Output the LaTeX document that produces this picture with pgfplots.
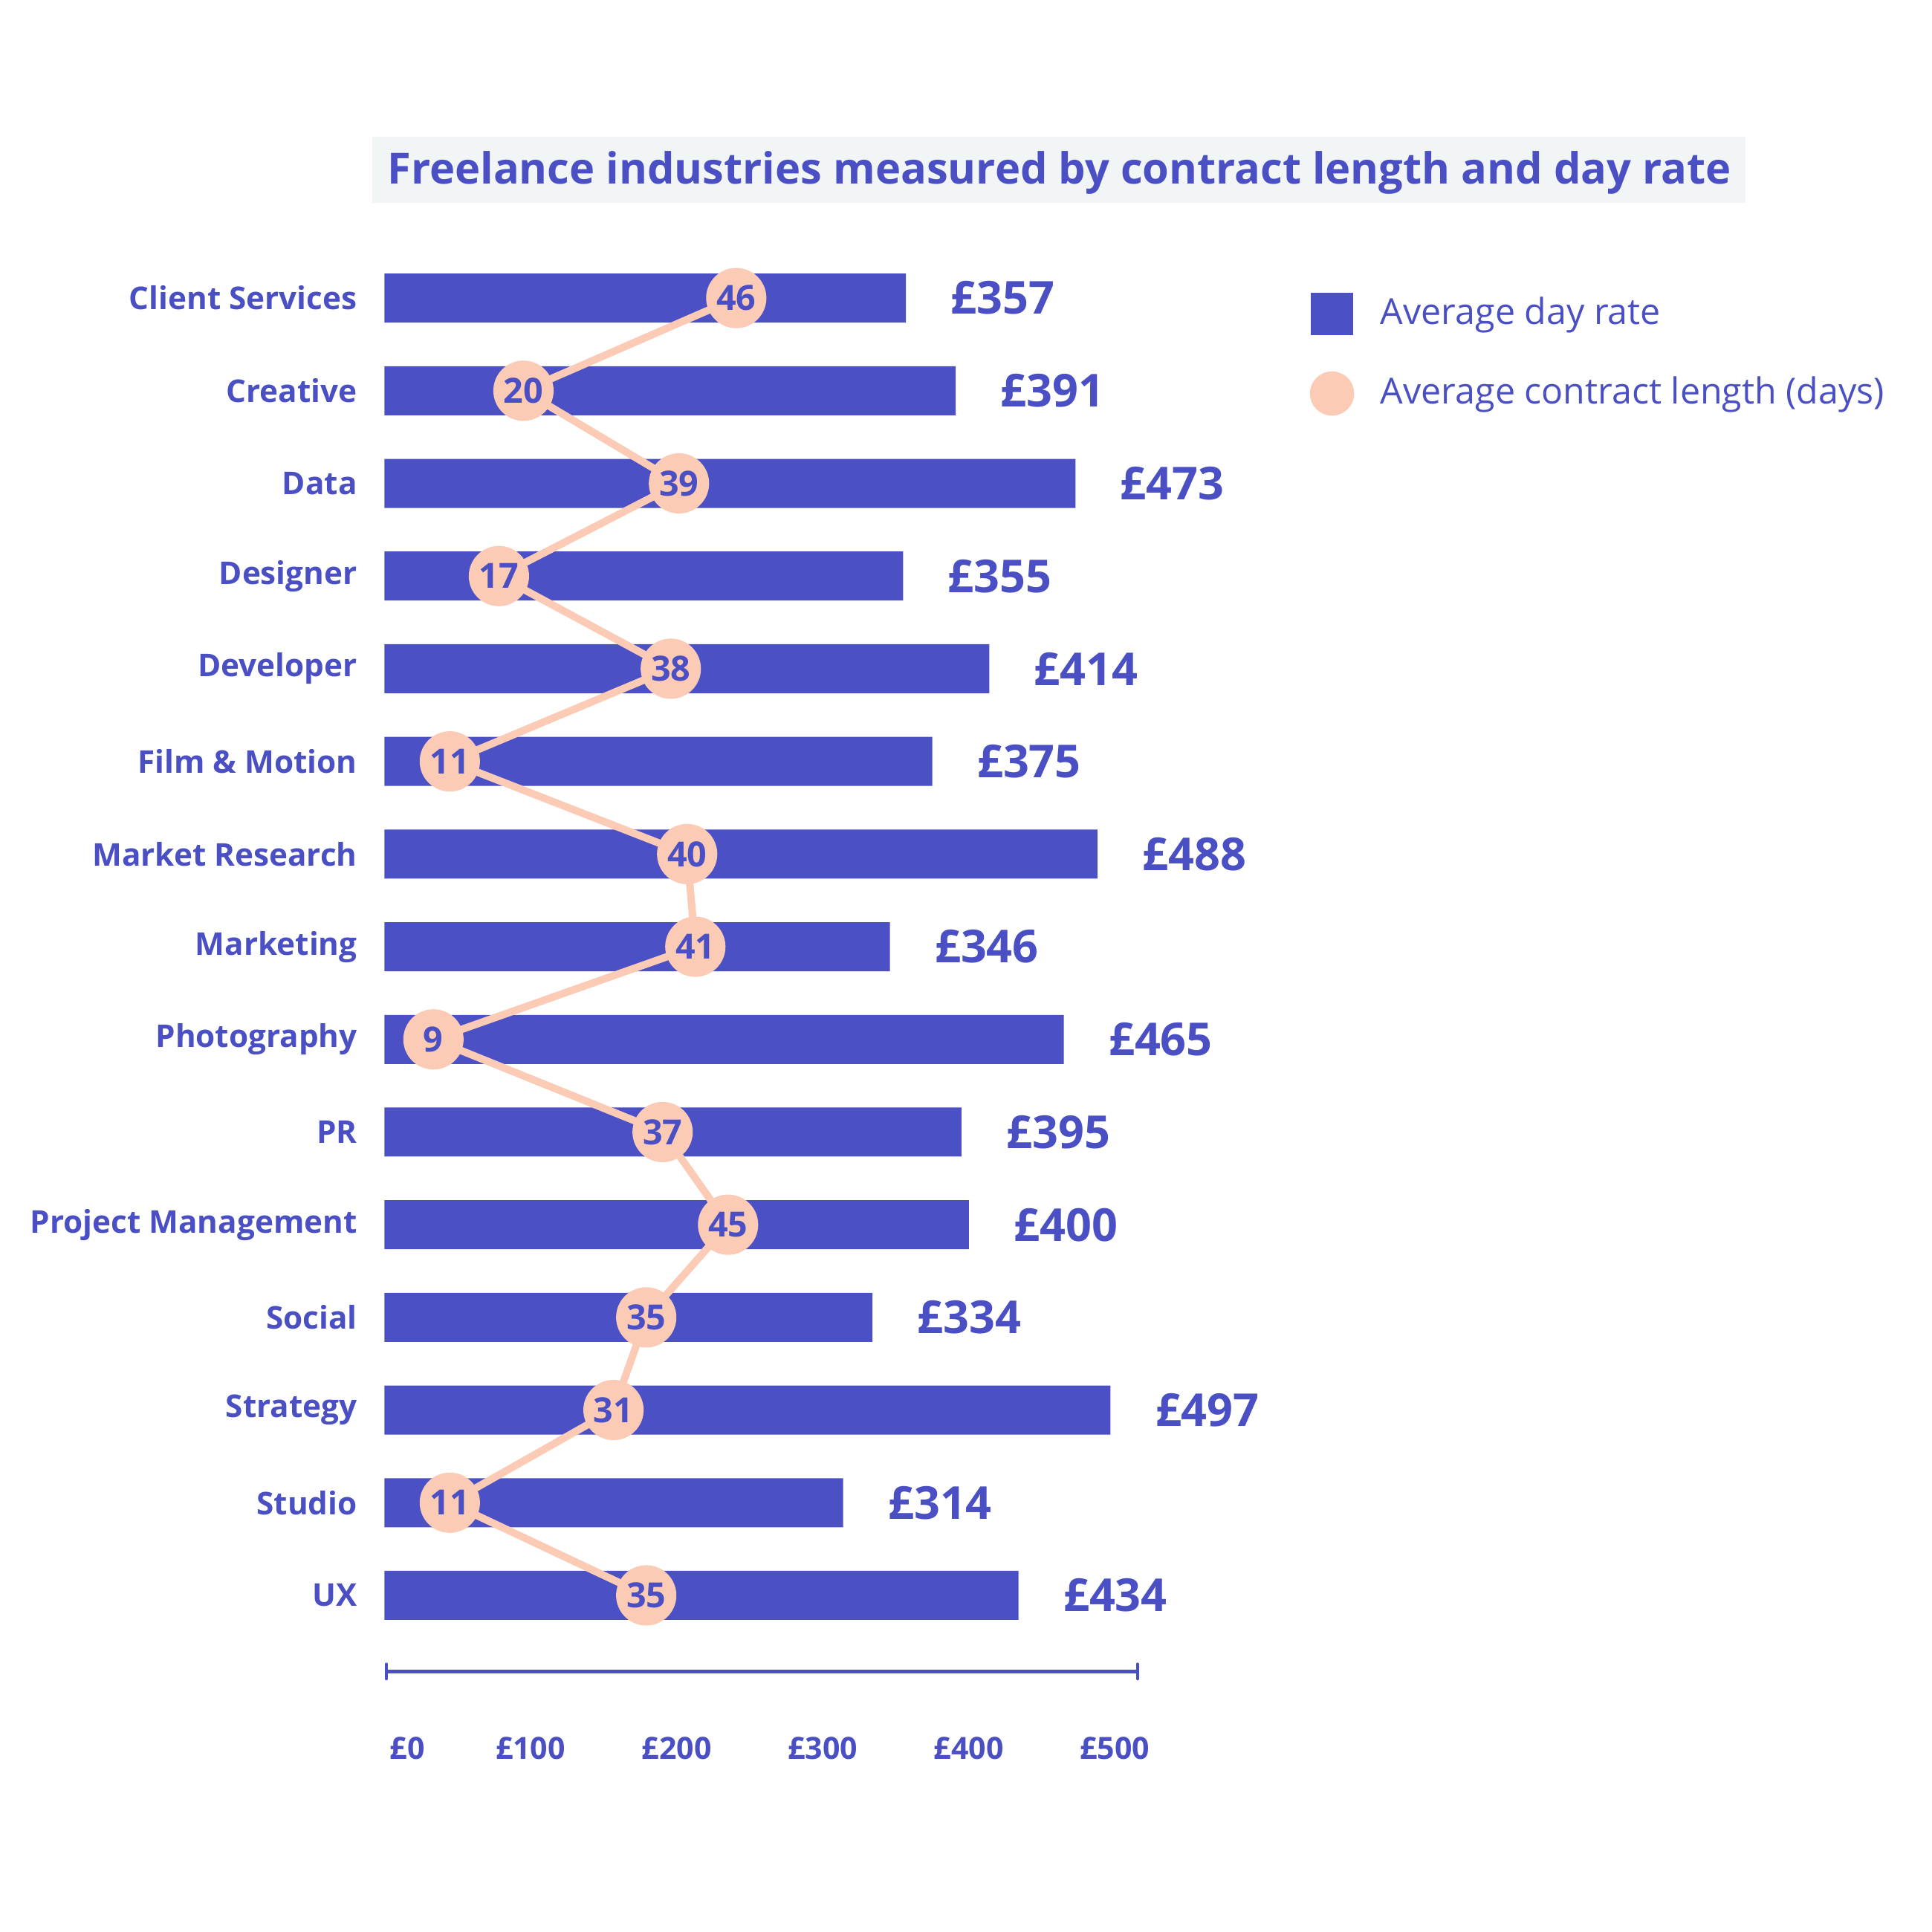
\documentclass[border=0pt]{standalone}
\usepackage{fontspec}
\setmainfont{Open Sans}
\usepackage{pgfplots}
\pgfplotsset{compat=1.18}
\definecolor{barblue}{HTML}{4B50C5}
\definecolor{txtblue}{HTML}{4A4FC4}
\definecolor{peach}{HTML}{FBCBB5}
\definecolor{titlebg}{HTML}{F1F5F6}
\begin{document}
\begin{tikzpicture}[x=1pt,y=1pt]
\path[use as bounding box] (0,0) rectangle (468,468);
\fill[titlebg] (90.12,418.92) rectangle (422.82,434.82);
\node[anchor=base, inner sep=0pt, font=\bfseries\fontsize{10.4}{12}\selectfont, text=txtblue] at (256.6,423.5) {Freelance industries measured by contract length and day rate};

\begin{axis}[
  at={(93.12pt,63.12pt)}, anchor=south west,
  scale only axis, width=182.4pt, height=348.39pt,
  xmin=0, xmax=515.4, ymin=-0.7, ymax=14.821, y dir=reverse,
  axis line style={draw=none}, major tick length=0pt, tick style={draw=none},
  /pgf/number format/assume math mode=true,
  xtick={15.6,100,200,300,400,500},
  xticklabels={£0,£100,£200,£300,£400,£500},
  xticklabel style={anchor=center, inner sep=0pt, yshift=-18.6pt, font=\bfseries\fontsize{7.4}{8}\selectfont, text=txtblue},
  ytick={0,...,14},
  yticklabels={Client Services,Creative,Data,Designer,Developer,Film \& Motion,Market Research,Marketing,Photography,PR,Project Management,Social,Strategy,Studio,UX},
  yticklabel style={anchor=east, inner sep=0pt, xshift=-6.42pt, font=\bfseries\fontsize{7.6}{9}\selectfont, text=txtblue},
  clip=false,
  legend style={at={(axis description cs:1.2291,0.9586)}, anchor=north west, draw=none, fill=none, inner sep=0pt, outer sep=0pt, row sep=8.75pt, column sep=6.4pt, font=\fontsize{8.7}{10}\selectfont, text=txtblue, nodes={inner sep=0pt}},
  legend cell align=left,
]
\addplot[xbar, bar width=11.88pt, fill=barblue, draw=none,
  point meta=x,
  nodes near coords={£\pgfmathprintnumber{\pgfplotspointmeta}},
  nodes near coords style={anchor=west, inner sep=0pt, xshift=10.7pt, font=\bfseries\fontsize{11}{12}\selectfont, text=txtblue},
  legend image code/.code={\fill[barblue] (0pt,-5.15pt) rectangle (10.3pt,5.15pt);}]
coordinates {(357,0) (391,1) (473,2) (355,3) (414,4) (375,5) (488,6) (346,7) (465,8) (395,9) (400,10) (334,11) (497,12) (314,13) (434,14)};
\addlegendentry{Average day rate}
\addlegendimage{legend image code/.code={\fill[peach] (5.15pt,0pt) circle (5.16pt);}}
\addlegendentry{Average contract length (days)}
\draw[txtblue, line width=0.9pt] (axis cs:1.36,14.821) -- (axis cs:515.4,14.821);
\draw[txtblue, line width=0.7pt, line cap=round] ([yshift=-1.8pt]axis cs:1.36,14.821) -- ([yshift=1.8pt]axis cs:1.36,14.821);
\draw[txtblue, line width=0.7pt, line cap=round] ([yshift=-1.8pt]axis cs:515.4,14.821) -- ([yshift=1.8pt]axis cs:515.4,14.821);
\end{axis}

\begin{axis}[
  at={(93.12pt,63.12pt)}, anchor=south west,
  scale only axis, width=182.4pt, height=348.39pt,
  xmin=3.01, xmax=95.02, ymin=-0.7, ymax=14.821, y dir=reverse,
  hide axis, clip=false,
  /pgf/number format/assume math mode=true,
]
\addplot[peach, line width=1.8pt, mark=*, mark size=6.4pt, mark options={fill=peach, draw=none},
  point meta=x, nodes near coords,
  nodes near coords style={anchor=center, inner sep=0pt, font=\bfseries\fontsize{8.4}{9}\selectfont, text=txtblue}]
coordinates {(46,0) (20,1) (39,2) (17,3) (38,4) (11,5) (40,6) (41,7) (9,8) (37,9) (45,10) (35,11) (31,12) (11,13) (35,14)};
\end{axis}
\end{tikzpicture}
\end{document}
